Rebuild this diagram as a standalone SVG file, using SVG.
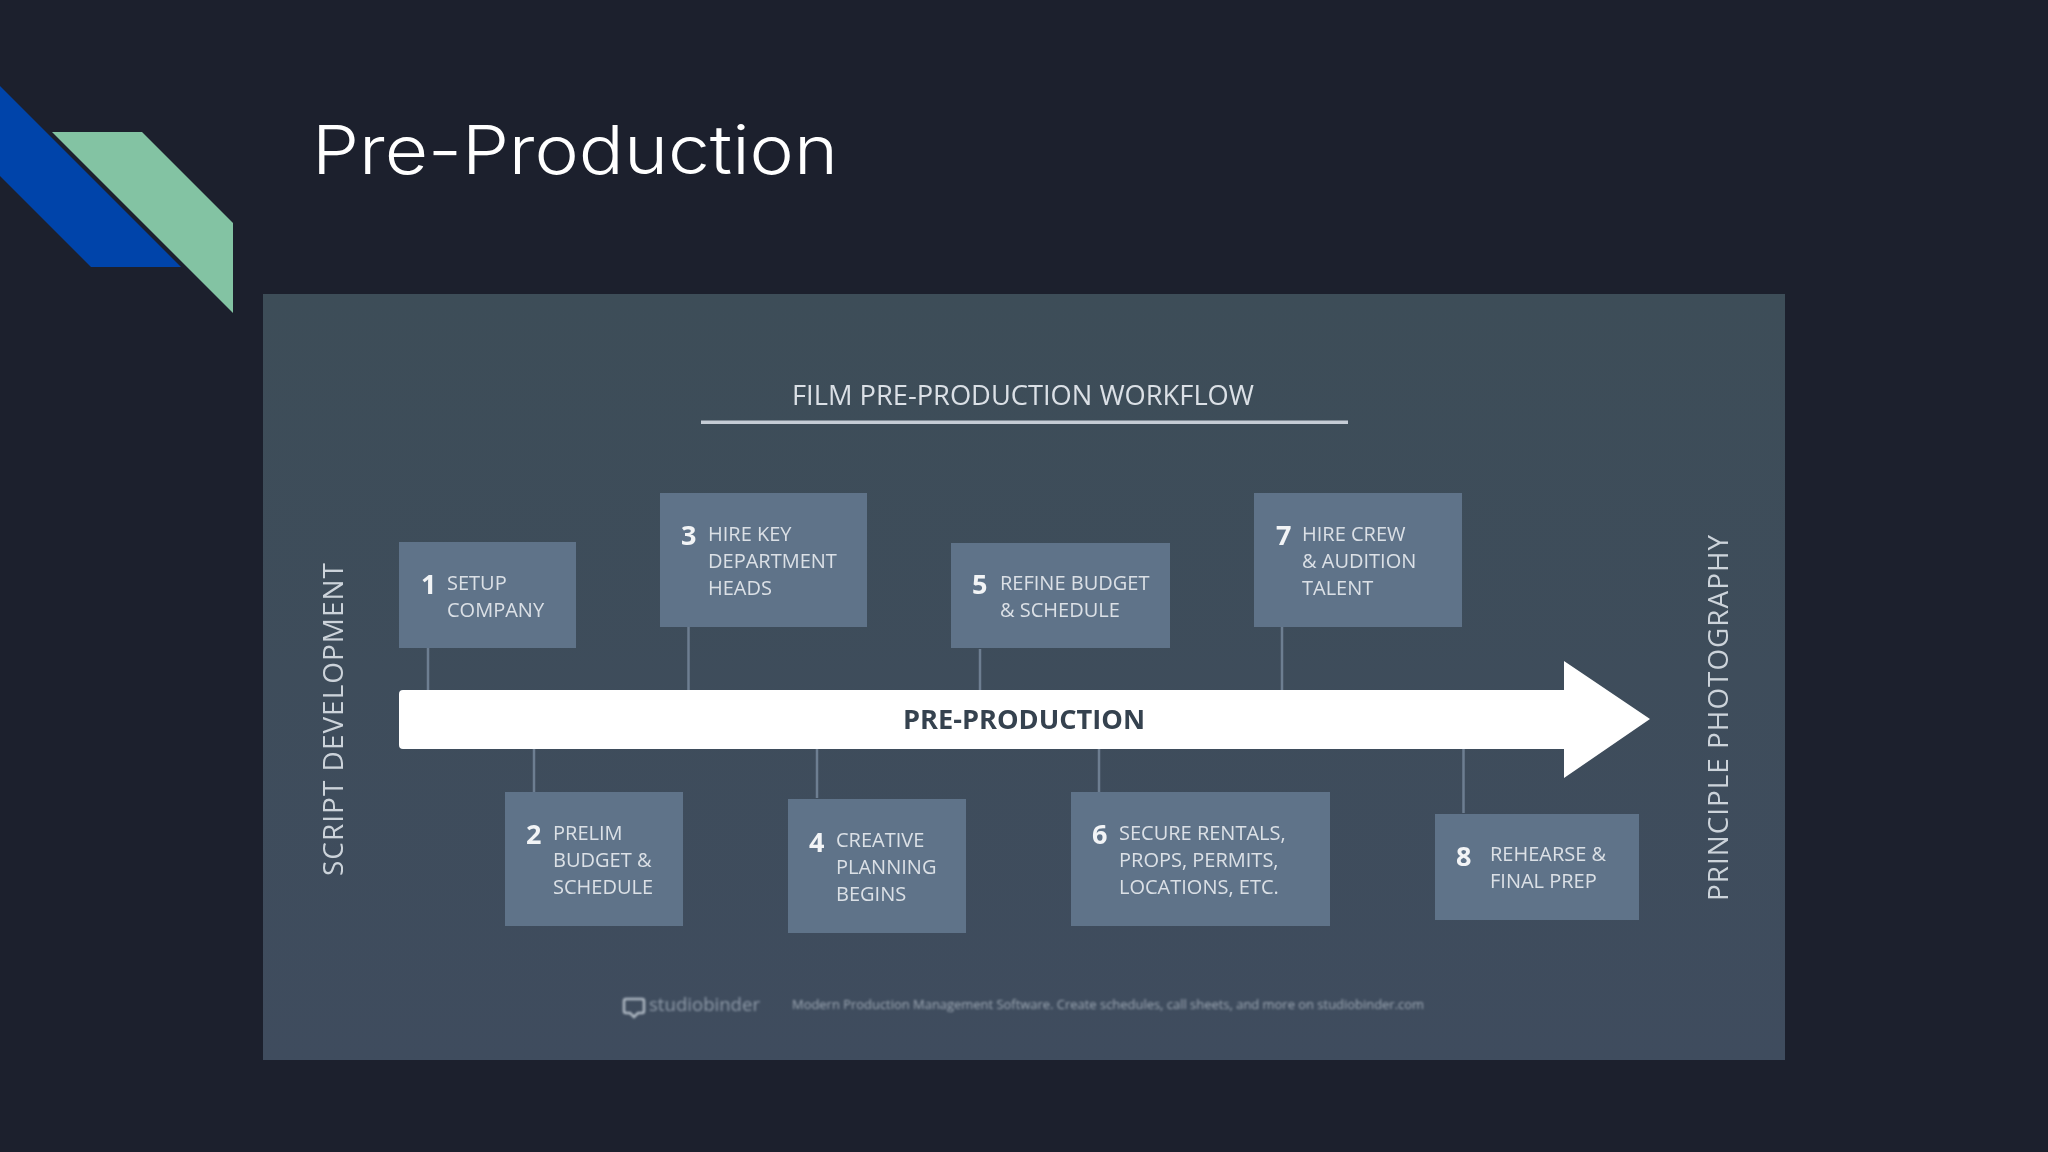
<svg xmlns="http://www.w3.org/2000/svg" width="2048" height="1152" viewBox="0 0 2048 1152">
<defs>
<linearGradient id="panelFill" x1="0" y1="0" x2="0" y2="1"><stop offset="0" stop-color="#3d4d58"/><stop offset="1" stop-color="#3f4c5e"/></linearGradient>
<filter id="soft" x="-5%" y="-5%" width="110%" height="110%"><feGaussianBlur stdDeviation="0.7"/></filter>
<filter id="softer" x="-5%" y="-50%" width="110%" height="200%"><feGaussianBlur stdDeviation="1.3"/></filter>
</defs>
<style>
.box{fill:#5f7389}
.conn{stroke:#6d7e91;stroke-width:2.5;fill:none}
.lab{font-family:"Open Sans","Liberation Sans",sans-serif;font-size:20px;fill:#dbe0e6}
.num{font-family:"Open Sans","Liberation Sans",sans-serif;font-size:27px;font-weight:700;fill:#f2f4f6}
.side{font-family:"Open Sans","Liberation Sans",sans-serif;font-size:27px;font-weight:500;fill:#ccd3da;letter-spacing:1px}
</style>
<rect width="2048" height="1152" fill="#1c202d"/>
<g id="decoration">
<polygon points="0,86 181,267 91,267 0,176" fill="#0044aa"/>
<polygon points="52,132 142,132 233,223 233,313" fill="#83c3a3"/>
</g>
<text id="title" x="312" y="174" font-family="Inter,'Open Sans',sans-serif" font-weight="300" font-size="67" fill="#ffffff" textLength="526" lengthAdjust="spacingAndGlyphs">Pre-Production</text>
<rect id="panel" x="263" y="294" width="1522" height="766" fill="url(#panelFill)"/>
<g filter="url(#soft)">
<g id="heading">
<text x="1023" y="405" text-anchor="middle" font-family="'Open Sans','Liberation Sans',sans-serif" font-size="27" fill="#dbe0e6" textLength="462" lengthAdjust="spacingAndGlyphs">FILM PRE-PRODUCTION WORKFLOW</text>
<rect x="701" y="420.500" width="647" height="3.500" fill="#c5ccd5"/>
</g>
<g id="connectors">
<path class="conn" d="M428 648V690M688.500 627V690M980 649V690M1282 627V690M534 748V792M817 748V798M1099 748V792M1463.500 748V813"/>
</g>
<g id="arrow">
<path d="M403 690H1564V661L1650 719L1564 778V749H403Q399 749 399 745V694Q399 690 403 690Z" fill="#ffffff"/>
<text x="1024" y="729" text-anchor="middle" font-family="'Open Sans','Liberation Sans',sans-serif" font-size="27" font-weight="700" fill="#36424f" textLength="242" lengthAdjust="spacingAndGlyphs">PRE-PRODUCTION</text>
</g>
<g id="node1"><rect class="box" x="399" y="542" width="177" height="106"/><text class="num" x="421" y="594">1</text><text class="lab" x="447" y="590">SETUP</text><text class="lab" x="447" y="617">COMPANY</text></g>
<g id="node2"><rect class="box" x="505" y="792" width="178" height="134"/><text class="num" x="526" y="844">2</text><text class="lab" x="553" y="840">PRELIM</text><text class="lab" x="553" y="867">BUDGET &amp;</text><text class="lab" x="553" y="894">SCHEDULE</text></g>
<g id="node3"><rect class="box" x="660" y="493" width="207" height="134"/><text class="num" x="681" y="545">3</text><text class="lab" x="708" y="541">HIRE KEY</text><text class="lab" x="708" y="568">DEPARTMENT</text><text class="lab" x="708" y="595">HEADS</text></g>
<g id="node4"><rect class="box" x="788" y="799" width="178" height="134"/><text class="num" x="809" y="852">4</text><text class="lab" x="836" y="847">CREATIVE</text><text class="lab" x="836" y="874">PLANNING</text><text class="lab" x="836" y="901">BEGINS</text></g>
<g id="node5"><rect class="box" x="951" y="543" width="219" height="105"/><text class="num" x="972" y="594">5</text><text class="lab" x="1000" y="590">REFINE BUDGET</text><text class="lab" x="1000" y="617">&amp; SCHEDULE</text></g>
<g id="node6"><rect class="box" x="1071" y="792" width="259" height="134"/><text class="num" x="1092" y="844">6</text><text class="lab" x="1119" y="840">SECURE RENTALS,</text><text class="lab" x="1119" y="867">PROPS, PERMITS,</text><text class="lab" x="1119" y="894">LOCATIONS, ETC.</text></g>
<g id="node7"><rect class="box" x="1254" y="493" width="208" height="134"/><text class="num" x="1276" y="545">7</text><text class="lab" x="1302" y="541">HIRE CREW</text><text class="lab" x="1302" y="568">&amp; AUDITION</text><text class="lab" x="1302" y="595">TALENT</text></g>
<g id="node8"><rect class="box" x="1435" y="814" width="204" height="106"/><text class="num" x="1456" y="866">8</text><text class="lab" x="1490" y="861">REHEARSE &amp;</text><text class="lab" x="1490" y="888">FINAL PREP</text></g>
<text id="script-development" class="side" transform="translate(343 876) rotate(-90)" textLength="314" lengthAdjust="spacingAndGlyphs">SCRIPT DEVELOPMENT</text>
<text id="principle-photography" class="side" transform="translate(1728 901) rotate(-90)" textLength="367" lengthAdjust="spacingAndGlyphs">PRINCIPLE PHOTOGRAPHY</text>
</g>
<g id="footer" filter="url(#softer)">
<path d="M626 999H642Q644 999 644 1001V1011Q644 1013 642 1013H638L634 1017L630 1013H626Q624 1013 624 1011V1001Q624 999 626 999Z" fill="none" stroke="#aeb8c2" stroke-width="2.500"/>
<text x="649" y="1011" font-family="'Open Sans','Liberation Sans',sans-serif" font-size="19" fill="#8e9aa8" textLength="111" lengthAdjust="spacingAndGlyphs">studiobinder</text>
<text x="792" y="1009" font-family="'Open Sans','Liberation Sans',sans-serif" font-size="12" fill="#9ea9b5" textLength="632" lengthAdjust="spacingAndGlyphs">Modern Production Management Software.  Create schedules, call sheets, and more on studiobinder.com</text>
</g>
</svg>
